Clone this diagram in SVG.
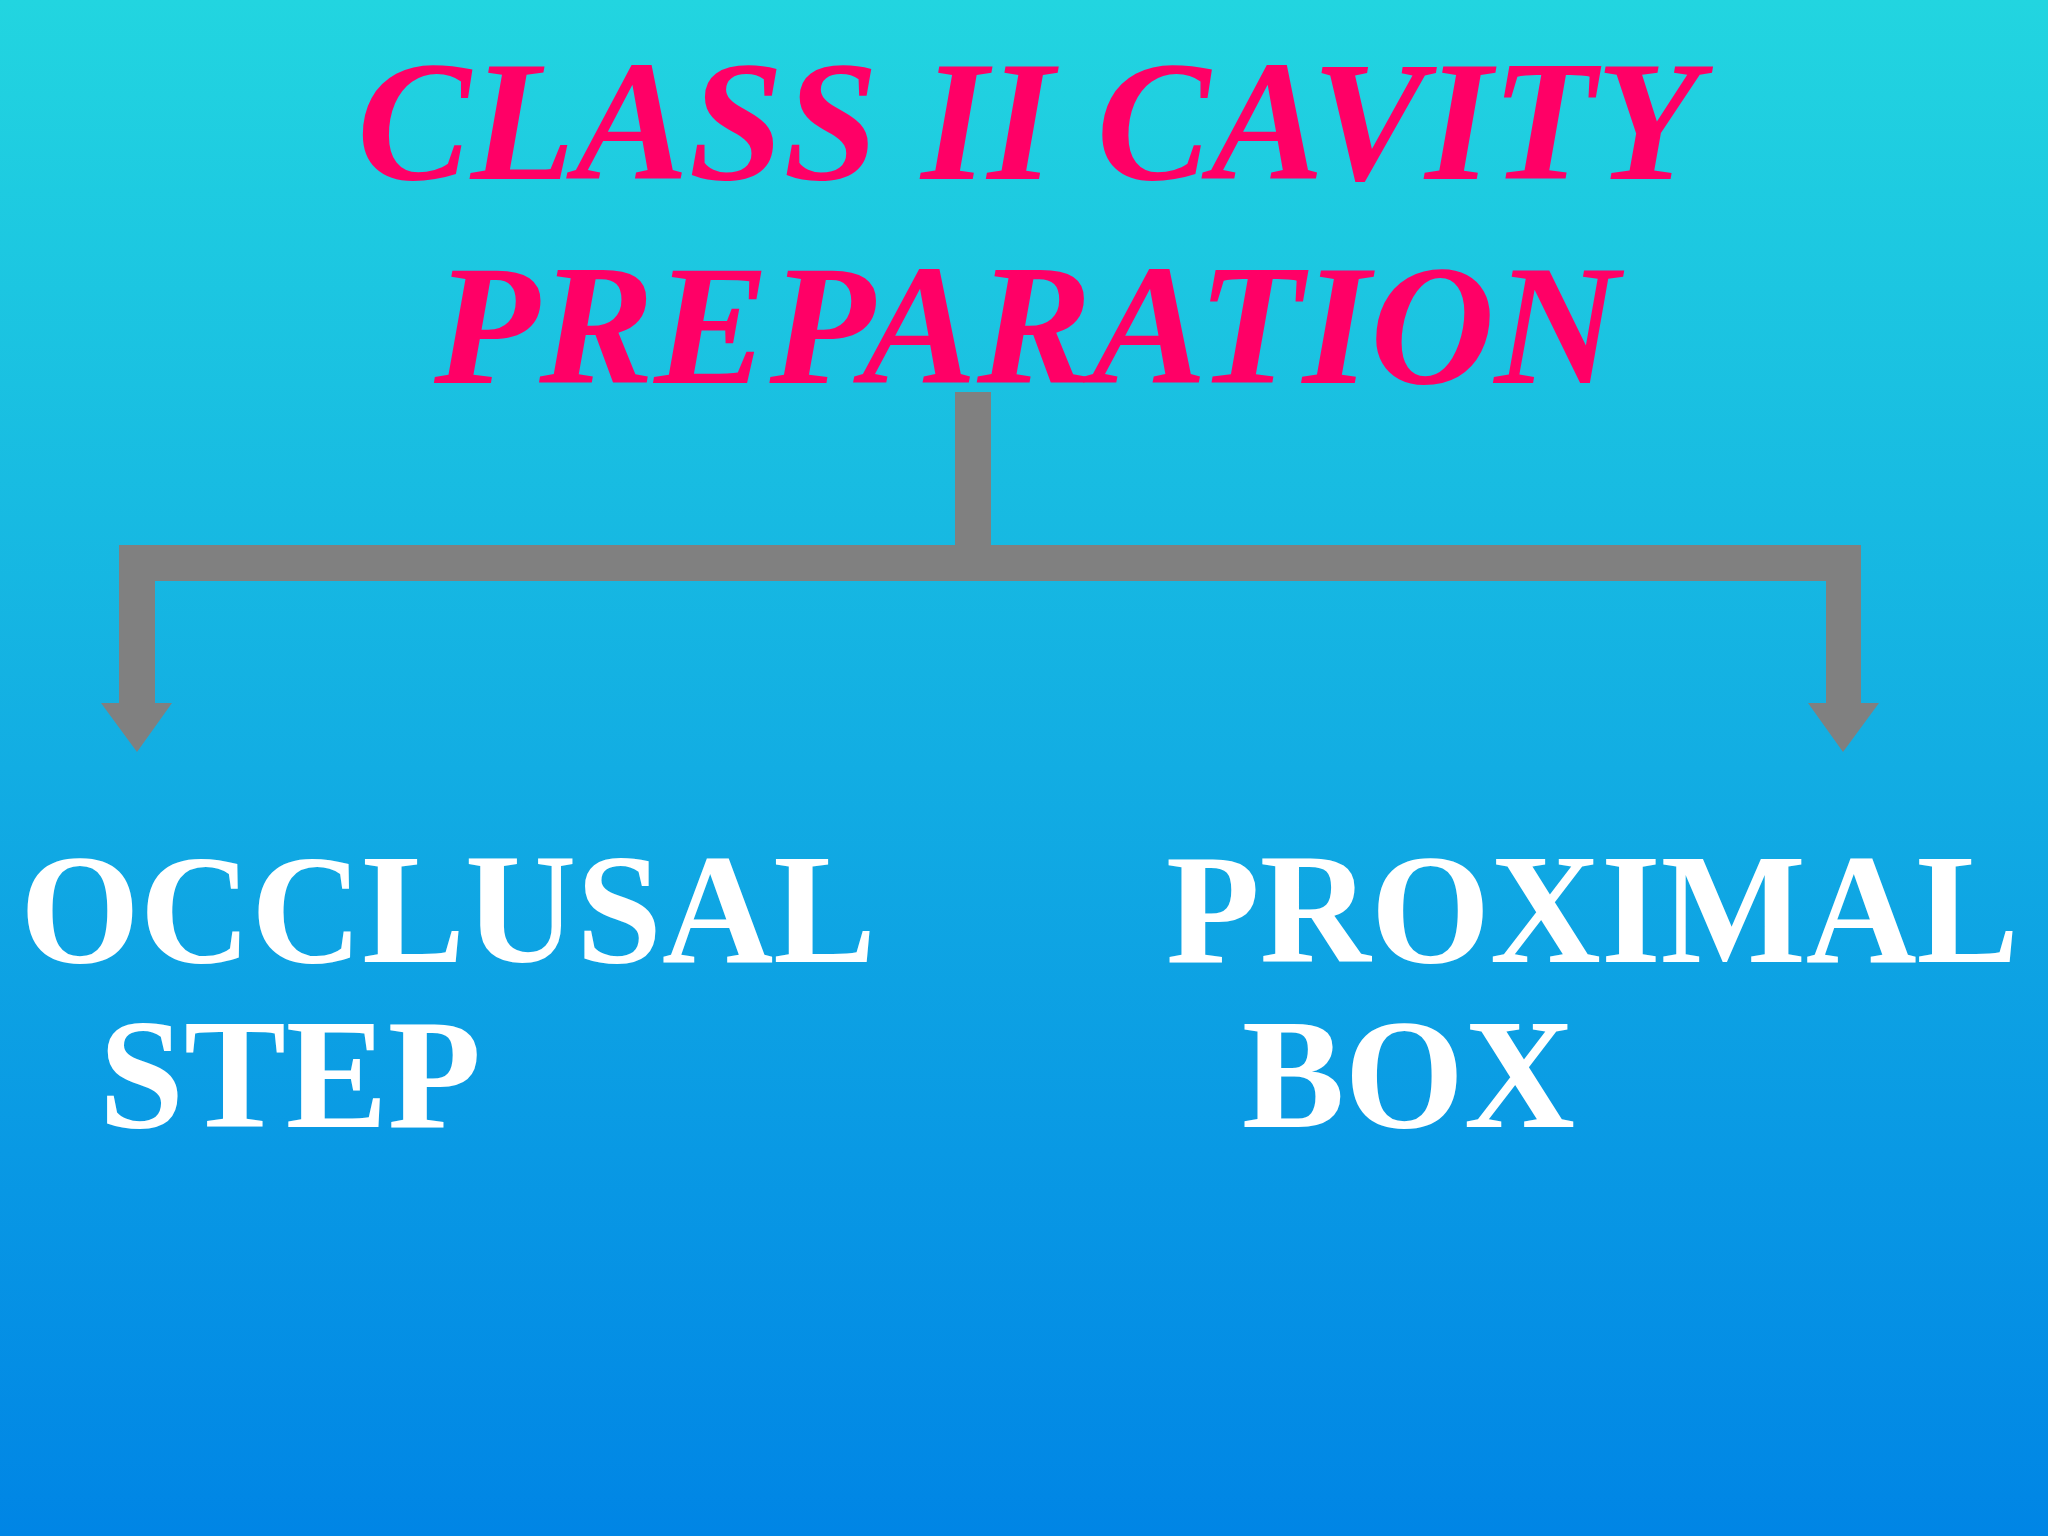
<svg xmlns="http://www.w3.org/2000/svg" width="2048" height="1536" viewBox="0 0 2048 1536">
  <defs>
    <linearGradient id="bg" x1="0" y1="0" x2="0" y2="1">
      <stop offset="0" stop-color="#22d5e0"/>
      <stop offset="0.5" stop-color="#12ade3"/>
      <stop offset="1" stop-color="#0085e5"/>
    </linearGradient>
    <style>
      .title { font-family: "Liberation Serif", "Times New Roman", serif; font-weight: bold; font-style: italic; font-size: 172px; fill: #ff0066; }
      .label { font-family: "Liberation Serif", "Times New Roman", serif; font-weight: bold; font-size: 156px; fill: #ffffff; }
      .conn { fill: #808080; }
    </style>
  </defs>
  <rect x="0" y="0" width="2048" height="1536" fill="url(#bg)"/>

  <g id="title">
    <text class="title" x="357" y="179" textLength="1343" lengthAdjust="spacingAndGlyphs">CLASS II CAVITY</text>
    <text class="title" x="434" y="383" textLength="1185" lengthAdjust="spacingAndGlyphs">PREPARATION</text>
  </g>

  <g id="connectors">
    <rect class="conn" x="955" y="392" width="36" height="170"/>
    <path class="conn" d="M119,545 H1861 V703 H1879 L1843,752 L1808,703 H1826 V581 H155 V703 H172 L137,752 L101,703 H119 Z"/>
  </g>

  <g id="occlusal-step">
    <text class="label" x="20" y="962" textLength="856" lengthAdjust="spacingAndGlyphs">OCCLUSAL</text>
    <text class="label" x="99" y="1127" textLength="382" lengthAdjust="spacingAndGlyphs">STEP</text>
  </g>

  <g id="proximal-box">
    <text class="label" x="1166" y="962" textLength="853" lengthAdjust="spacingAndGlyphs">PROXIMAL</text>
    <text class="label" x="1242" y="1127" textLength="333" lengthAdjust="spacingAndGlyphs">BOX</text>
  </g>
</svg>
